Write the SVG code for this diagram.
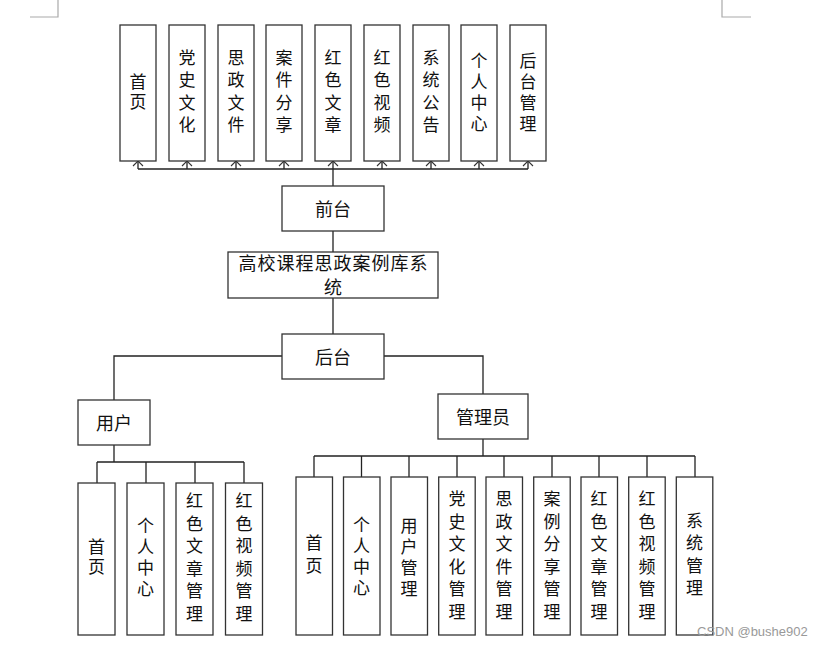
<svg xmlns="http://www.w3.org/2000/svg" width="825" height="646" viewBox="0 0 825 646">
<style>
.b{fill:#fff;stroke:#333;stroke-width:1.3}
.t{font-family:"Noto Sans CJK SC","Noto Sans CJK TC",sans-serif;font-size:17px;fill:#111;text-anchor:middle;dominant-baseline:central}
.h{font-family:"Noto Sans CJK SC","Noto Sans CJK TC",sans-serif;font-size:18px;fill:#111;text-anchor:middle;dominant-baseline:central}
.v{writing-mode:vertical-rl;glyph-orientation-vertical:0}
.s2{letter-spacing:3px}
.s4{letter-spacing:4px}
.s6{letter-spacing:5.5px}
.c{fill:none;stroke:#222;stroke-width:1.3}
.m{fill:none;stroke:#aaa;stroke-width:1.2}
</style>
<defs>
<marker id="ah" markerWidth="12" markerHeight="12" refX="6" refY="0" orient="0" markerUnits="userSpaceOnUse" overflow="visible">
<path d="M1,5 L6,0 L11,5" fill="none" stroke="#333" stroke-width="1.1"/>
</marker>
</defs>
<rect width="825" height="646" fill="#fff"/>
<path class="m" d="M58,0 V17 H30 M722,0 V17 H751"/>
<g id="connectors">
<path class="c" d="M138,169 H528 M333,169 V186 M333,231 V252 M333,298 V334 M282,356 H114 V400 M384,356 H483 V394"/>
<path class="c" marker-end="url(#ah)" d="M138,169 V161"/>
<path class="c" marker-end="url(#ah)" d="M187,169 V161"/>
<path class="c" marker-end="url(#ah)" d="M236,169 V161"/>
<path class="c" marker-end="url(#ah)" d="M284,169 V161"/>
<path class="c" marker-end="url(#ah)" d="M333,169 V161"/>
<path class="c" marker-end="url(#ah)" d="M382,169 V161"/>
<path class="c" marker-end="url(#ah)" d="M431,169 V161"/>
<path class="c" marker-end="url(#ah)" d="M479,169 V161"/>
<path class="c" marker-end="url(#ah)" d="M528,169 V161"/>
<path class="c" d="M114,445 V462 M97,462 H244 M97,462 V483 M146,462 V483 M195,462 V483 M244,462 V483"/>
<path class="c" d="M483,439 V456 M314,456 H695 M314,456 V477 M361.5,456 V477 M409,456 V477 M457,456 V477 M504,456 V477 M552,456 V477 M599,456 V477 M647,456 V477 M695,456 V477"/>
</g>
<g id="top-home"><rect class="b" x="120" y="25" width="36" height="136"/><text class="t v s2" x="138" y="93.5">首页</text></g>
<g id="top-party"><rect class="b" x="169" y="25" width="36" height="136"/><text class="t v s6" x="187" y="94">党史文化</text></g>
<g id="top-files"><rect class="b" x="218" y="25" width="36" height="136"/><text class="t v s6" x="236" y="94">思政文件</text></g>
<g id="top-case"><rect class="b" x="266" y="25" width="36" height="136"/><text class="t v s6" x="284" y="94">案件分享</text></g>
<g id="top-article"><rect class="b" x="315" y="25" width="36" height="136"/><text class="t v s6" x="333" y="94">红色文章</text></g>
<g id="top-video"><rect class="b" x="364" y="25" width="36" height="136"/><text class="t v s6" x="382" y="94">红色视频</text></g>
<g id="top-notice"><rect class="b" x="413" y="25" width="36" height="136"/><text class="t v s6" x="431" y="94">系统公告</text></g>
<g id="top-center"><rect class="b" x="461" y="25" width="36" height="136"/><text class="t v s4" x="479" y="94">个人中心</text></g>
<g id="top-admin"><rect class="b" x="510" y="25" width="36" height="136"/><text class="t v s4" x="528" y="94">后台管理</text></g>
<g id="frontend"><rect class="b" x="282" y="186" width="102" height="45"/><text class="h" x="333" y="208">前台</text></g>
<g id="system"><rect class="b" x="228" y="252" width="210" height="46"/><text class="h" x="333" y="262" textLength="189" lengthAdjust="spacing">高校课程思政案例库系</text><text class="h" x="333" y="286">统</text></g>
<g id="backend"><rect class="b" x="282" y="334" width="102" height="45"/><text class="h" x="333" y="356">后台</text></g>
<g id="user"><rect class="b" x="78" y="400" width="72" height="45"/><text class="h" x="114" y="422">用户</text></g>
<g id="manager"><rect class="b" x="438" y="394" width="90" height="45"/><text class="h" x="483" y="416">管理员</text></g>
<g id="u-home"><rect class="b" x="78" y="483" width="37" height="152"/><text class="t v s2" x="96.5" y="558.5">首页</text></g>
<g id="u-center"><rect class="b" x="127" y="483" width="37" height="152"/><text class="t v s4" x="145.5" y="559">个人中心</text></g>
<g id="u-article"><rect class="b" x="176" y="483" width="37" height="152"/><text class="t v s6" x="194.5" y="560">红色文章管理</text></g>
<g id="u-video"><rect class="b" x="225.5" y="483" width="37" height="152"/><text class="t v s6" x="244" y="560">红色视频管理</text></g>
<g id="a-home"><rect class="b" x="296" y="477" width="36.5" height="158"/><text class="t v s6" x="314" y="557">首页</text></g>
<g id="a-center"><rect class="b" x="343.5" y="477" width="36.5" height="158"/><text class="t v s4" x="361.5" y="558.5">个人中心</text></g>
<g id="a-user"><rect class="b" x="391" y="477" width="36.5" height="158"/><text class="t v s4" x="409" y="559">用户管理</text></g>
<g id="a-party"><rect class="b" x="438.7" y="477" width="36.5" height="158"/><text class="t v s6" x="457" y="558">党史文化管理</text></g>
<g id="a-files"><rect class="b" x="486" y="477" width="36.5" height="158"/><text class="t v s6" x="504" y="558">思政文件管理</text></g>
<g id="a-case"><rect class="b" x="533.7" y="477" width="36.5" height="158"/><text class="t v s6" x="552" y="558">案例分享管理</text></g>
<g id="a-article"><rect class="b" x="581" y="477" width="36.5" height="158"/><text class="t v s6" x="599" y="558">红色文章管理</text></g>
<g id="a-video"><rect class="b" x="628.7" y="477" width="36.5" height="158"/><text class="t v s6" x="647" y="558">红色视频管理</text></g>
<g id="a-system"><rect class="b" x="676.3" y="477" width="36.5" height="158"/><text class="t v s6" x="694.5" y="557">系统管理</text></g>
<text x="697" y="636" style="font-family:'Liberation Sans',Arial,sans-serif;font-size:13px;fill:#999">CSDN @bushe902</text>
</svg>
